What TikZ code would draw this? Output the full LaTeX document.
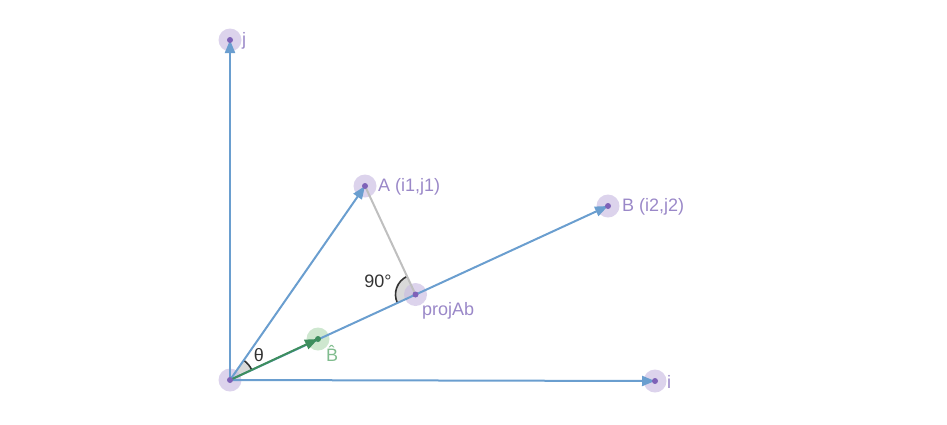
\documentclass[tikz,border=0pt]{standalone}
\usepackage{fontspec}
\setmainfont{Liberation Sans}
\usetikzlibrary{arrows.meta,angles}
\definecolor{vecblue}{HTML}{6A9ECF}
\definecolor{ptpurple}{HTML}{7E62B8}
\definecolor{halopurple}{HTML}{C9BCE2}
\definecolor{txtpurple}{HTML}{9A88C8}
\definecolor{vecgreen}{HTML}{3E8E5E}
\definecolor{halogreen}{HTML}{B3DAB6}
\definecolor{txtgreen}{HTML}{80BC8E}
\tikzset{
  vec/.style={draw=vecblue, line width=2pt, -{Triangle[length=13pt,width=10pt]}},
  unitvec/.style={draw=vecgreen, line width=2pt, -{Triangle[length=13pt,width=10pt]}},
  perp/.style={draw=black!25, line width=2pt},
  lbl/.style={text=txtpurple, font=\fontsize{18}{20}\selectfont, inner sep=0pt},
  wedge/.style={draw=black!80, line width=1.6pt, fill=black!15}
}
\def\halo(#1)#2{\fill[#2, opacity=0.65] (#1) circle (11.5pt);}
\def\dotmark(#1)#2{\fill[#2] (#1) circle (3pt);}

\begin{document}
\begin{tikzpicture}[x=1pt,y=-1pt]
			%%%%% START %%%%%
			\useasboundingbox (0,0) rectangle (947,424);
			
			\coordinate (O) at (230, 380);
			\coordinate (J) at (230, 40);
			\coordinate (I) at (655, 381);
			\coordinate (A) at (365, 186);
			\coordinate (B) at (608, 206);
			\coordinate (P) at (415.5, 294.5);
			\coordinate (Bh) at (318, 339);
			
			\pic[wedge, angle radius=24pt] {angle = B--O--A};
			\pic[wedge, angle radius=20pt] {angle = A--P--O};
			
			\halo(O){halopurple}
			\halo(J){halopurple}
			\halo(I){halopurple}
			\halo(A){halopurple}
			\halo(B){halopurple}
			\halo(P){halopurple}
			\halo(Bh){halogreen}
			
			\draw[perp] (A) -- (P);
			\draw[vec] (O) -- (J);
			\draw[vec] (O) -- (I);
			\draw[vec] (O) -- (A);
			\draw[vec] (O) -- (B);
			\draw[unitvec] (O) -- (Bh);
			
			\dotmark(O){ptpurple}
			\dotmark(J){ptpurple}
			\dotmark(I){ptpurple}
			\dotmark(A){ptpurple}
			\dotmark(B){ptpurple}
			\dotmark(P){ptpurple}
			\dotmark(Bh){vecgreen}
			
			\node[lbl, anchor=west] (jlbl) at (242, 41) {j};
			\node[lbl, anchor=west] (ilbl) at (667, 382) {i};
			\node[lbl, anchor=west] (albl) at (378, 187) {A (i1,j1)};
			\node[lbl, anchor=west] (blbl) at (622, 207) {B (i2,j2)};
			\node[lbl, anchor=west] (plbl) at (422, 311) {projAb};
			\node[lbl, text=txtgreen] (bhlbl) at (332, 353) {B\symbol{"0302}};
			\node[lbl, text=black!80] (thlbl) at (259, 355) {θ};
			\node[lbl, text=black!80] (rtlbl) at (378, 281) {90°};
			%%%%% END %%%%%
		\end{tikzpicture}
\end{document}
